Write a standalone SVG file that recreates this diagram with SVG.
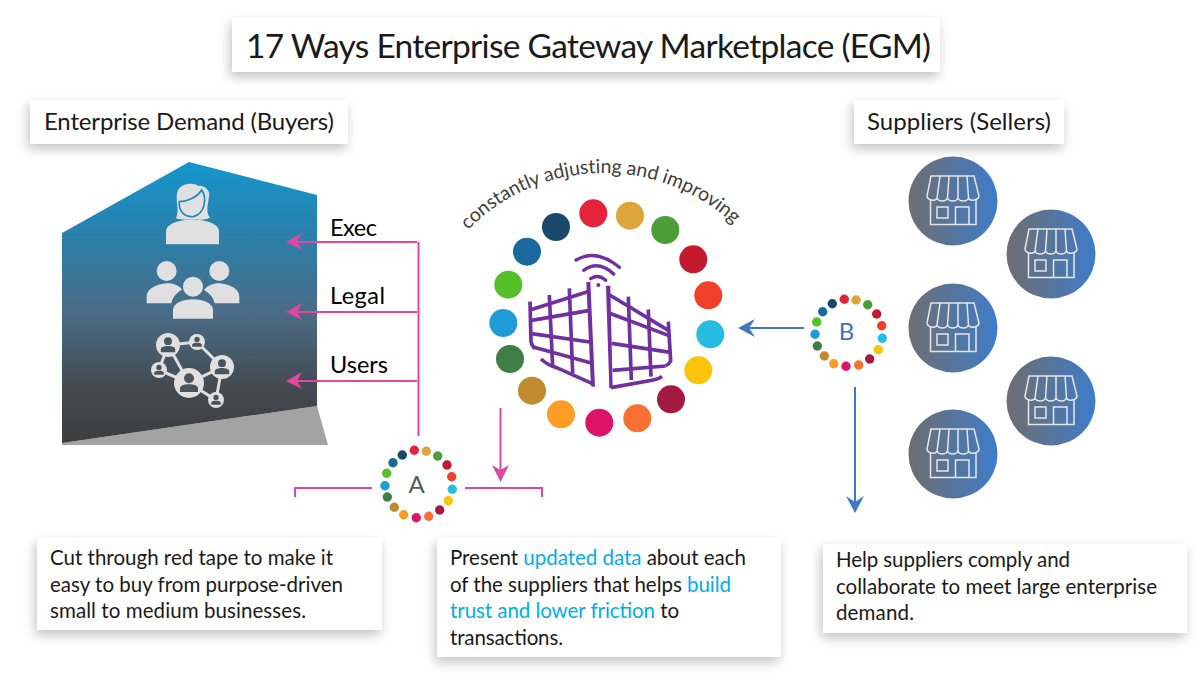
<svg xmlns="http://www.w3.org/2000/svg" xmlns:xlink="http://www.w3.org/1999/xlink" width="1200" height="690" viewBox="0 0 1200 690">
<style>
text{font-family:Lato,"Open Sans","Liberation Sans",sans-serif;fill:#1a1a1a}
.box{fill:#fff;filter:url(#sh)}
.h{font-size:24px}
.t{font-size:20.500px}
.hl{fill:#00aeef}
.lab{font-size:23.500px;fill:#000}
.pink{fill:none;stroke:#e0479e;stroke-width:2}
.pinkh{fill:#e0479e}
.blue{fill:none;stroke:#3f78c5;stroke-width:2}
.blueh{fill:#3f78c5}
.ic{fill:#e0e0e0}
.gate{fill:none;stroke:#7030a0;stroke-width:11;stroke-linecap:butt;stroke-linejoin:miter}
.wifi{fill:none;stroke:#7030a0;stroke-width:10;stroke-linecap:round}
.st{fill:none;stroke:#e6e6e6;stroke-width:1.5}
.net{fill:none;stroke:#e0e0e0;stroke-width:3}
.d1{fill:#e5243b}.d2{fill:#dda63a}.d3{fill:#4c9f38}.d4{fill:#c5192d}.d5{fill:#f0402a}.d6{fill:#26bde2}.d7{fill:#fcc30b}.d8{fill:#a21942}.d9{fill:#f97035}.d10{fill:#dd1367}.d11{fill:#fd9d24}.d12{fill:#bf8b2e}.d13{fill:#3f7e44}.d14{fill:#1f9bd8}.d15{fill:#56c02b}.d16{fill:#19699f}.d17{fill:#19486a}
</style>
<defs>
<filter id="sh" x="-15%" y="-30%" width="130%" height="170%"><feDropShadow dx="-2" dy="5" stdDeviation="6" flood-color="#000" flood-opacity="0.24"/></filter>
<linearGradient id="bld" gradientUnits="userSpaceOnUse" x1="0" y1="162" x2="0" y2="443"><stop offset="0" stop-color="#1596cc"/><stop offset="0.2" stop-color="#2485b3"/><stop offset="0.55" stop-color="#4b6a85"/><stop offset="0.8" stop-color="#434a50"/><stop offset="1" stop-color="#3d3d3f"/></linearGradient>
<linearGradient id="sc"><stop offset="0" stop-color="#6e6e70"/><stop offset="1" stop-color="#3e7cca"/></linearGradient>
<g id="store">
<circle r="44.5" fill="url(#sc)"/>
<path class="st" d="M-22,-25H21L26,-5C26,-1 17,1 15.500,-3C14,1 6.500,1 5,-3C3.500,1 -4,1 -5.500,-3C-7,1 -14.500,1 -16,-3C-17.500,1 -26,-1 -26,-5ZM-13,-25L-16,-3M-4,-25L-5.500,-3M5,-25L5,-3M14,-25L15.500,-3"/>
<path class="st" d="M-22.500,-1V23.500H23V-1M2.500,23.500V6H16V23.500M-16,6H-5V17H-16Z"/>
</g>
<g id="pp"><circle cy="-3.200" r="3.300" fill="#4a545e"/><path d="M-6,6V3.500C-6,1.500 -3,0.800 0,0.800C3,0.800 6,1.500 6,3.500V6Z" fill="#4a545e"/></g>
</defs>
<rect width="1200" height="690" fill="#fff"/>

<g id="title"><rect class="box" x="232" y="18" width="708" height="54"/><text x="246" y="58" font-size="33.500" textLength="685">17 Ways Enterprise Gateway Marketplace (EGM)</text></g>
<g id="buyers-title"><rect class="box" x="30" y="100" width="318" height="44"/><text class="h" x="44" y="130" textLength="290">Enterprise Demand (Buyers)</text></g>
<g id="sellers-title"><rect class="box" x="854" y="100" width="210" height="44"/><text class="h" x="867" y="130" textLength="184">Suppliers (Sellers)</text></g>

<g id="buyers">
<path d="M62,443L317,406L328,445L62,445Z" fill="#a3a3a3"/>
<path d="M62,233L189,162L317,195V406L62,443Z" fill="url(#bld)"/>
<g id="exec-icon" transform="translate(130,170) scale(0.3333)">
<path class="ic" d="M138,145C150,120 135,90 142,65C150,40 190,35 205,48C215,45 235,55 238,70C236,100 225,125 240,143C225,150 210,150 190,148C170,150 150,150 138,145Z"/>
<path class="ic" d="M108,223V185C108,160 150,150 188,148C225,150 267,160 267,185V223Z"/>
<path d="M148,95C165,95 200,85 215,60C230,80 228,130 190,140C165,142 145,125 148,95Z" fill="#e0e0e0" stroke="#1b88b8" stroke-width="5"/>
</g>
<g id="legal-icon" transform="translate(130,170) scale(0.3333)">
<circle class="ic" cx="110" cy="303" r="30"/><circle class="ic" cx="268" cy="303" r="30"/>
<path class="ic" d="M50,400V380C50,355 80,343 110,340C130,340 145,345 156,358C140,370 128,380 124,400Z"/>
<path class="ic" d="M328,400V380C328,355 298,343 268,340C248,340 232,347 222,360C238,370 250,380 254,400Z"/>
<circle class="ic" cx="189" cy="350" r="30"/>
<path class="ic" d="M129,446V420C129,400 160,388 189,388C218,388 249,400 249,420V446Z"/>
</g>
<g id="users-icon">
<path class="net" d="M168,345L197,342L222,367L189,383L216,400L222,367M168,345L189,383L159,370L168,345"/>
<circle class="ic" cx="168" cy="345" r="12"/><circle class="ic" cx="197" cy="342" r="8"/><circle class="ic" cx="222" cy="367" r="12"/><circle class="ic" cx="159" cy="370" r="8"/><circle class="ic" cx="189" cy="383" r="15"/><circle class="ic" cx="216" cy="400" r="8"/>
<use xlink:href="#pp" href="#pp" transform="translate(168,345) scale(1.200)"/>
<use xlink:href="#pp" href="#pp" transform="translate(197,342) scale(0.800)"/>
<use xlink:href="#pp" href="#pp" transform="translate(222,367) scale(1.200)"/>
<use xlink:href="#pp" href="#pp" transform="translate(159,370) scale(0.800)"/>
<use xlink:href="#pp" href="#pp" transform="translate(189,383) scale(1.500)"/>
<use xlink:href="#pp" href="#pp" transform="translate(216,400) scale(0.800)"/>
</g>
</g>
<g id="role-labels">
<text class="lab" x="330" y="236" textLength="47">Exec</text>
<text class="lab" x="330" y="304" textLength="55">Legal</text>
<text class="lab" x="330" y="373" textLength="58">Users</text>
</g>

<g id="ring-main">
<g><circle class="d1" cx="593.300" cy="213.300" r="14"/><circle class="d2" cx="630" cy="215.700" r="14"/><circle class="d3" cx="665.300" cy="230" r="14"/><circle class="d4" cx="693.300" cy="259.300" r="14"/><circle class="d5" cx="708.300" cy="295.300" r="14"/><circle class="d6" cx="710.300" cy="334.300" r="14"/><circle class="d7" cx="698.300" cy="370.300" r="14"/><circle class="d8" cx="671" cy="399.300" r="14"/><circle class="d9" cx="637.300" cy="418.300" r="14"/><circle class="d10" cx="599.300" cy="422.700" r="14"/><circle class="d11" cx="561" cy="414.300" r="14"/><circle class="d12" cx="532" cy="390.700" r="14"/><circle class="d13" cx="510" cy="359" r="14"/><circle class="d14" cx="503.300" cy="323" r="14"/><circle class="d15" cx="508.300" cy="284.700" r="14"/><circle class="d16" cx="527" cy="251.700" r="14"/><circle class="d17" cx="556" cy="227" r="14"/></g>
<g id="gate" transform="translate(515,245) scale(0.3333)">
<path class="gate" d="M45,170L48,290Q52,305 60,310M103,150L113,365M163,130L173,385"/>
<path d="M214,112L226,110L240,426L228,424Z" fill="#7030a0"/>
<path class="gate" d="M45,195L218,140M50,226L224,196M50,266L224,291M57,307L226,353M78,342Q100,362 125,368L232,416"/>
<path d="M273,122L286,122L293,428L283,430Z" fill="#7030a0"/>
<path class="gate" d="M340,155L349,405M400,193L408,395M460,230L467,348Q462,358 452,362"/>
<path class="gate" d="M284,150L460,256M284,205L462,272M290,295L466,322M293,376L452,363M288,428L415,405Q432,402 441,394"/>
<path class="wifi" d="M227,101Q250,86 272,106M206,76Q250,44 296,87M183,45Q245,10 313,67"/>
<circle cx="250" cy="120" r="6" fill="#7030a0"/>
</g>
<path id="arc" d="M468,230A190,190 0 0 1 760,255" fill="none"/>
<text font-size="19.500" style="fill:#404040;letter-spacing:-0.100px"><textPath href="#arc" xlink:href="#arc">constantly adjusting and improving</textPath></text>
</g>

<g id="node-a">
<g><circle class="d1" cx="414.300" cy="450.300" r="4.700"/><circle class="d2" cx="426.300" cy="451.300" r="4.700"/><circle class="d3" cx="437.700" cy="456" r="4.700"/><circle class="d4" cx="447" cy="465" r="4.700"/><circle class="d5" cx="451.700" cy="476.700" r="4.700"/><circle class="d6" cx="452.300" cy="489.300" r="4.700"/><circle class="d7" cx="448.300" cy="500.700" r="4.700"/><circle class="d8" cx="439.700" cy="510" r="4.700"/><circle class="d9" cx="428.700" cy="516.300" r="4.700"/><circle class="d10" cx="416.300" cy="517.700" r="4.700"/><circle class="d11" cx="403.700" cy="514.700" r="4.700"/><circle class="d12" cx="394.300" cy="507.300" r="4.700"/><circle class="d13" cx="387.300" cy="497" r="4.700"/><circle class="d14" cx="385" cy="485.700" r="4.700"/><circle class="d15" cx="386.700" cy="473.300" r="4.700"/><circle class="d16" cx="393" cy="462.700" r="4.700"/><circle class="d17" cx="402.300" cy="455" r="4.700"/></g>
<text x="416.500" y="493" font-size="24" text-anchor="middle" style="fill:#595959">A</text>
</g>
<g id="node-b">
<g><circle class="d1" cx="844.300" cy="299.300" r="4.700"/><circle class="d2" cx="856" cy="300" r="4.700"/><circle class="d3" cx="867.700" cy="304.700" r="4.700"/><circle class="d4" cx="876.700" cy="314" r="4.700"/><circle class="d5" cx="881.700" cy="325.700" r="4.700"/><circle class="d6" cx="882.300" cy="338.300" r="4.700"/><circle class="d7" cx="878.300" cy="349.700" r="4.700"/><circle class="d8" cx="869.700" cy="359" r="4.700"/><circle class="d9" cx="858.700" cy="365" r="4.700"/><circle class="d10" cx="846" cy="366.300" r="4.700"/><circle class="d11" cx="833.700" cy="363.700" r="4.700"/><circle class="d12" cx="824.300" cy="356" r="4.700"/><circle class="d13" cx="817.300" cy="346" r="4.700"/><circle class="d14" cx="815" cy="334.300" r="4.700"/><circle class="d15" cx="816.700" cy="322" r="4.700"/><circle class="d16" cx="822.700" cy="311.700" r="4.700"/><circle class="d17" cx="832.300" cy="303.700" r="4.700"/></g>
<text x="846.500" y="340" font-size="24" text-anchor="middle" style="fill:#3a73c0">B</text>
</g>

<g id="suppliers">
<use id="store1" href="#store" xlink:href="#store" x="953" y="201"/>
<use id="store2" href="#store" xlink:href="#store" x="1051" y="254"/>
<use id="store3" href="#store" xlink:href="#store" x="953" y="328"/>
<use id="store4" href="#store" xlink:href="#store" x="1051" y="401"/>
<use id="store5" href="#store" xlink:href="#store" x="953" y="454"/>
</g>

<g id="connectors">
<path class="pink" d="M418.500,242V436M417,242H292M417,312H292M417,381H292M372,488H295V497M465,488H542V497M500.500,408V470"/>
<path class="pinkh" d="M286,242L302,233L297,242L302,250ZM286,312L302,303L297,312L302,320ZM286,381L302,372L297,381L302,389ZM500.500,482L492,465L500.500,470L509,465Z"/>
<path class="blue" d="M804,328H744M855,387V505"/>
<path class="blueh" d="M738,328L755,319L749,328L755,337ZM855,513L846,496L855,502L864,496Z"/>
</g>

<g id="note-a"><rect class="box" x="37" y="538" width="345" height="92"/>
<text class="t" x="50" y="565" textLength="283">Cut through red tape to make it</text>
<text class="t" x="50" y="592" textLength="293">easy to buy from purpose-driven</text>
<text class="t" x="50" y="618" textLength="256">small to medium businesses.</text></g>
<g id="note-b"><rect class="box" x="437" y="538" width="344" height="119"/>
<text class="t" x="450" y="565" textLength="296">Present <tspan class="hl">updated data</tspan> about each</text>
<text class="t" x="450" y="592" textLength="281">of the suppliers that helps <tspan class="hl">build</tspan></text>
<text class="t" x="450" y="618" textLength="229"><tspan class="hl">trust and lower friction</tspan> to</text>
<text class="t" x="450" y="645" textLength="113">transactions.</text></g>
<g id="note-c"><rect class="box" x="823" y="544" width="364" height="89"/>
<text class="t" x="836" y="567" textLength="234">Help suppliers comply and</text>
<text class="t" x="836" y="594" textLength="321">collaborate to meet large enterprise</text>
<text class="t" x="836" y="620" textLength="78">demand.</text></g>
</svg>
